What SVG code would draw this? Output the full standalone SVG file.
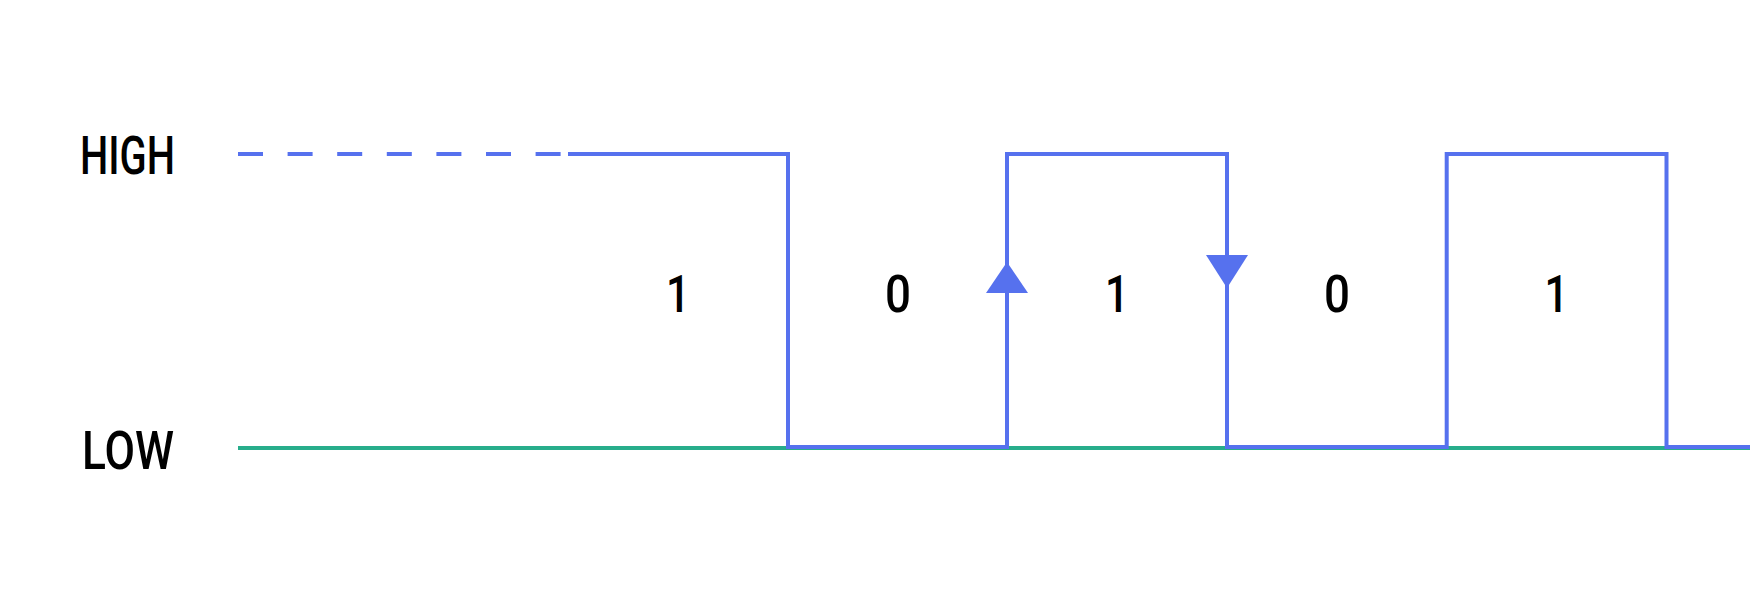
<svg xmlns="http://www.w3.org/2000/svg" width="1750" height="602" viewBox="0 0 1750 602">
  <style>
    .lbl { font-family: Roboto, "Liberation Sans", sans-serif; font-size: 54px; font-weight: 500; fill: #000; }
    .bit { font-family: Roboto, "Liberation Sans", sans-serif; font-size: 52px; font-weight: 500; fill: #000; text-anchor: middle; }
    .sig { fill: none; stroke: #5671ee; stroke-width: 4; }
    .low { fill: none; stroke: #27ad8b; stroke-width: 4; }
    .arr { fill: #5671ee; }
  </style>
  <rect width="1750" height="602" fill="#fff"/>
  <g id="label-high"><text class="lbl" x="80" y="174.3" textLength="95" lengthAdjust="spacingAndGlyphs">HIGH</text></g>
  <g id="label-low"><text class="lbl" x="82" y="469.3" textLength="92" lengthAdjust="spacingAndGlyphs">LOW</text></g>
  <g id="connectors">
    <path class="low" d="M238,448 H1750"/>
    <path class="sig" d="M238,154 H561" stroke-dasharray="25 24.6"/>
    <path class="sig" d="M568,154 H788 V447 H1007 V154 H1227 V447 H1446.7 V154 H1666.5 V447 H1750"/>
    <polygon class="arr" points="1007,262 986,293 1028,293"/>
    <polygon class="arr" points="1206,255 1248,255 1227,288"/>
  </g>
  <g id="bit-1"><text class="bit" x="678" y="312" textLength="24" lengthAdjust="spacingAndGlyphs">1</text></g>
  <g id="bit-2"><text class="bit" x="898" y="312" textLength="26" lengthAdjust="spacingAndGlyphs">0</text></g>
  <g id="bit-3"><text class="bit" x="1117" y="312" textLength="24" lengthAdjust="spacingAndGlyphs">1</text></g>
  <g id="bit-4"><text class="bit" x="1337" y="312" textLength="26" lengthAdjust="spacingAndGlyphs">0</text></g>
  <g id="bit-5"><text class="bit" x="1556.6" y="312" textLength="24" lengthAdjust="spacingAndGlyphs">1</text></g>
</svg>
